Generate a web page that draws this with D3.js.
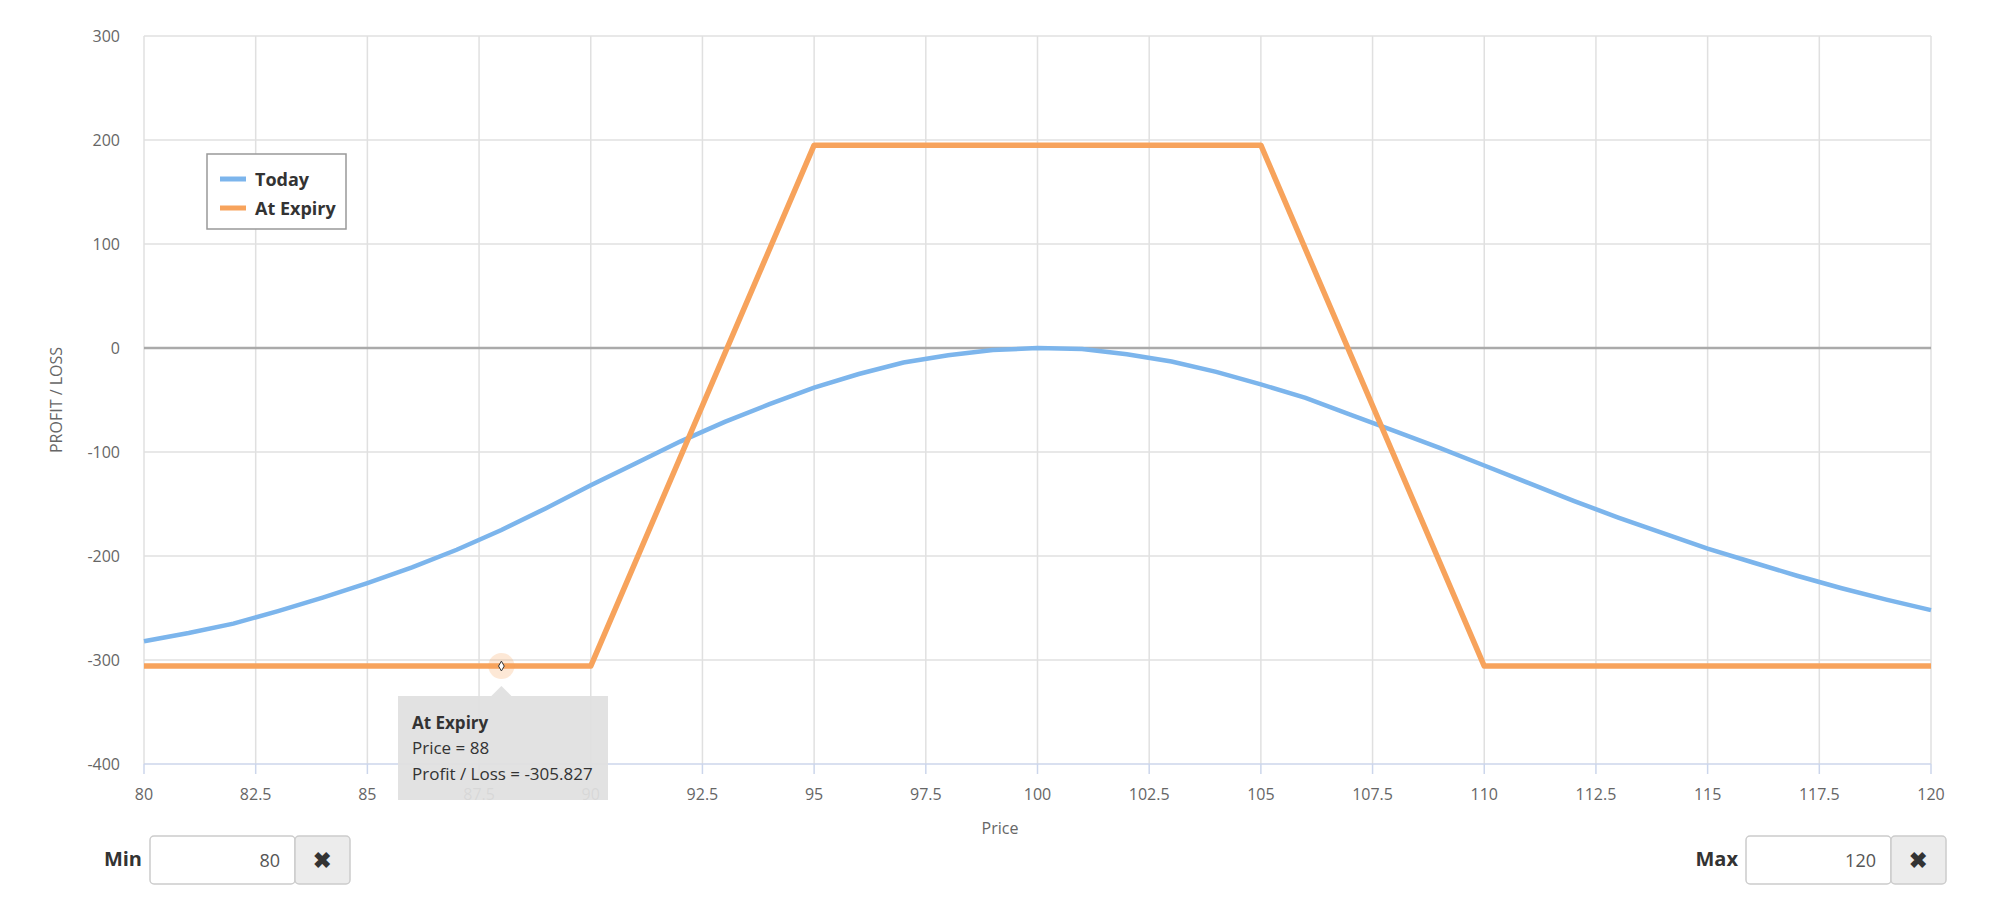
<!DOCTYPE html><html><head><meta charset="utf-8"><script src="https://cdn.jsdelivr.net/npm/d3@7"></script>
<style>body{margin:0;background:#fff;font-family:"Open Sans",sans-serif}</style></head><body><svg id="c" width="1999" height="908"></svg>
<script>
const prices=[80,81,82,83,84,85,86,87,88,89,90,91,92,93,94,95,96,97,98,99,100,101,102,103,104,105,106,107,108,109,110,111,112,113,114,115,116,117,118,119,120];
const today=[-282,-274,-265,-253,-240,-226,-211,-194,-175,-154,-132,-111,-90,-71,-54,-38,-25,-14,-7,-2,0,-1,-6,-13,-23,-35,-48,-64,-80,-96,-113,-130,-147,-163,-178,-193,-206,-219,-231,-242,-252];
const expiryX=[80,90,95,105,110,120];
const expiryY=[-305.827,-305.827,195,195,-305.827,-305.827];
const xTicks=[80,82.5,85,87.5,90,92.5,95,97.5,100,102.5,105,107.5,110,112.5,115,117.5,120];
const yTicks=[300,200,100,0,-100,-200,-300,-400];
const svg=d3.select("#c");
const x=d3.scaleLinear().domain([80,120]).range([144,1931]);
const y=d3.scaleLinear().domain([-400,300]).range([764,36]);
const g=svg.append("g");
g.selectAll(".vg").data(xTicks).join("line").attr("x1",d=>x(d)).attr("x2",d=>x(d)).attr("y1",36).attr("y2",764).attr("stroke","#e0e0e0").attr("stroke-width",1.5);
g.selectAll(".hg").data(yTicks).join("line").attr("x1",144).attr("x2",1931).attr("y1",d=>y(d)).attr("y2",d=>y(d)).attr("stroke",d=>d===0?"#aaa":(d===-400?"#ccd6eb":"#e0e0e0")).attr("stroke-width",d=>d===0?2.5:1.5);
g.selectAll(".xt").data(xTicks).join("line").attr("x1",d=>x(d)).attr("x2",d=>x(d)).attr("y1",764).attr("y2",774).attr("stroke","#ccd6eb").attr("stroke-width",1.5);
g.selectAll(".xl").data(xTicks).join("text").attr("x",d=>x(d)).attr("y",800).attr("text-anchor","middle").attr("font-size",16).attr("fill","#666").text(d=>d);
g.selectAll(".yl").data(yTicks).join("text").attr("x",120).attr("y",d=>y(d)+6).attr("text-anchor","end").attr("font-size",16).attr("fill","#666").text(d=>d);
svg.append("text").attr("x",1000).attr("y",834).attr("text-anchor","middle").attr("font-size",16).attr("fill","#666").text("Price");
svg.append("text").attr("transform","translate(62,400) rotate(-90)").attr("text-anchor","middle").attr("font-size",16).attr("fill","#666").text("PROFIT / LOSS");
const line=d3.line();
svg.append("path").attr("d",line(prices.map((p,i)=>[x(p),y(today[i])]))).attr("fill","none").attr("stroke","#7cb5ec").attr("stroke-width",4.5);
svg.append("path").attr("d",line(expiryX.map((p,i)=>[x(p),y(expiryY[i])]))).attr("fill","none").attr("stroke","#f7a35c").attr("stroke-width",5.5).attr("stroke-linejoin","round");
svg.append("rect").attr("x",207).attr("y",154).attr("width",139).attr("height",75).attr("fill","#fff").attr("stroke","#999").attr("stroke-width",1.5);
[["Today","#7cb5ec"],["At Expiry","#f7a35c"]].forEach((l,i)=>{
 svg.append("line").attr("x1",220).attr("x2",246).attr("y1",179+i*29).attr("y2",179+i*29).attr("stroke",l[1]).attr("stroke-width",5);
 svg.append("text").attr("x",255).attr("y",186+i*29).attr("font-size",18).attr("font-weight","bold").attr("fill","#333").text(l[0]);
});
const hx=x(88),hy=y(-305.827);
svg.append("circle").attr("cx",hx).attr("cy",hy).attr("r",13).attr("fill","#f7a35c").attr("opacity",0.25);
svg.append("path").attr("d",d3.symbol(d3.symbolDiamond,28)()).attr("transform",`translate(${hx},${hy})`).attr("fill","#fff").attr("stroke","#333").attr("stroke-width",1);
svg.append("path").attr("d",`M${hx-10},696 L${hx},686 L${hx+10},696 Z`).attr("fill","#e0e0e0").attr("opacity",0.95);
svg.append("rect").attr("x",398).attr("y",696).attr("width",210).attr("height",104).attr("fill","#e0e0e0").attr("opacity",0.93);
svg.append("text").attr("x",412).attr("y",729).attr("font-size",17).attr("font-weight","bold").attr("fill","#333").text("At Expiry");
svg.append("text").attr("x",412).attr("y",754).attr("font-size",17).attr("fill","#333").text("Price = 88");
svg.append("text").attr("x",412).attr("y",780).attr("font-size",17).attr("fill","#333").text("Profit / Loss = -305.827");
function ctrl(lbl,bx,val){
 svg.append("text").attr("x",bx-8).attr("y",866).attr("text-anchor","end").attr("font-size",20).attr("font-weight","bold").attr("fill","#333").text(lbl);
 svg.append("rect").attr("x",bx).attr("y",836).attr("width",145).attr("height",48).attr("rx",4).attr("fill","#fff").attr("stroke","#ccc").attr("stroke-width",1.5);
 svg.append("rect").attr("x",bx+145).attr("y",836).attr("width",55).attr("height",48).attr("rx",4).attr("fill","#ececec").attr("stroke","#ccc").attr("stroke-width",1.5);
 svg.append("text").attr("x",bx+130).attr("y",867).attr("text-anchor","end").attr("font-size",18).attr("fill","#555").text(val);
 svg.append("text").attr("x",bx+172).attr("y",868).attr("text-anchor","middle").attr("font-size",22).attr("font-weight","bold").attr("fill","#333").text("✖");
}
ctrl("Min",150,"80");
ctrl("Max",1755-9,"120");
</script></body></html>
